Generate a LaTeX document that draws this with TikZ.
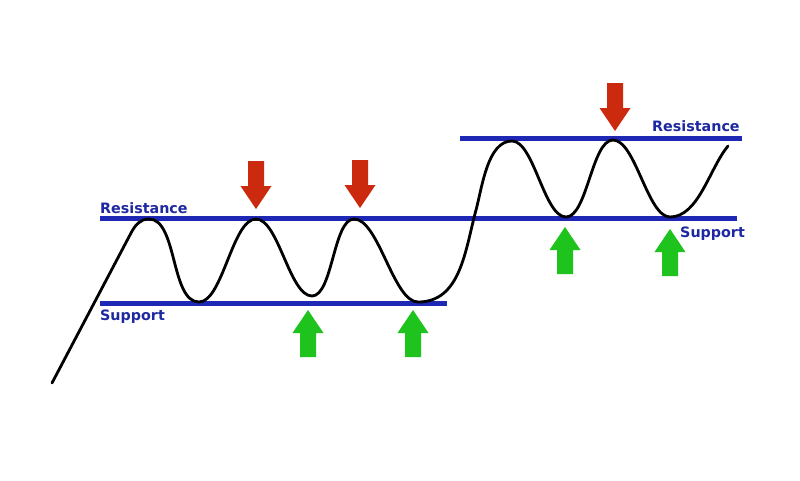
\documentclass[tikz,border=0pt]{standalone}
\usepackage{fontspec}
\newfontfamily\lblfont{DejaVu Sans}
\definecolor{lineblue}{RGB}{30,40,180}
\definecolor{textblue}{RGB}{30,40,160}
\definecolor{arrred}{RGB}{204,42,14}
\definecolor{arrgreen}{RGB}{30,195,30}
\tikzset{
  level/.style={draw=lineblue, line width=5pt},
  price/.style={draw=black, line width=2.8pt, line cap=round, line join=round},
  lbl/.style={anchor=base west, inner sep=0pt, text=textblue, font=\lblfont\bfseries\fontsize{14.3}{15}\selectfont},
  downarr/.pic={\fill[arrred] (0,0) -- (15.5,23) -- (8,23) -- (8,48) -- (-8,48) -- (-8,23) -- (-15.5,23) -- cycle;},
  uparr/.pic={\fill[arrgreen] (0,0) -- (15.5,-23) -- (8,-23) -- (8,-47) -- (-8,-47) -- (-8,-23) -- (-15.5,-23) -- cycle;}
}
\begin{document}
\begin{tikzpicture}[x=1pt,y=1pt]
\useasboundingbox[fill=white] (0,0) rectangle (800,-480);
% levels
\coordinate (r1a) at (100,-218); \coordinate (r1b) at (737,-218);
\coordinate (s1a) at (100,-303); \coordinate (s1b) at (447,-303);
\coordinate (r2a) at (460,-138); \coordinate (r2b) at (742,-138);
\draw[level] (r1a) -- (r1b);
\draw[level] (s1a) -- (s1b);
\draw[level] (r2a) -- (r2b);
% price curve
\draw[price] (52,-383) -- (131,-233) to[out=62,in=180] (149,-219)
  to[out=0,in=180,looseness=0.75] (199,-302)
  to[out=0,in=180,looseness=0.6] (256,-219)
  to[out=0,in=180,looseness=0.6] (312,-296)
  to[out=0,in=180,looseness=0.6] (354,-219)
  to[out=0,in=180,looseness=0.6] (418,-302)
  to[out=0,in=-105] (476,-210)
  to[out=75,in=180,looseness=0.8] (512,-141)
  to[out=0,in=180,looseness=0.6] (566,-217)
  to[out=0,in=180,looseness=0.6] (613,-140)
  to[out=0,in=180,looseness=0.6] (670,-217)
  to[out=0,in=-130,looseness=0.8] (728,-146);
% arrows
\pic at (256,-209) {downarr};
\pic at (360,-208) {downarr};
\pic at (615,-131) {downarr};
\pic at (308,-310) {uparr};
\pic at (413,-310) {uparr};
\pic at (565,-227) {uparr};
\pic at (670,-229) {uparr};
% labels
\node[lbl] (lr1) at (100,-213) {Resistance};
\node[lbl] (ls1) at (100,-320) {Support};
\node[lbl] (lr2) at (652,-131) {Resistance};
\node[lbl] (ls2) at (680,-237) {Support};
\end{tikzpicture}
\end{document}
